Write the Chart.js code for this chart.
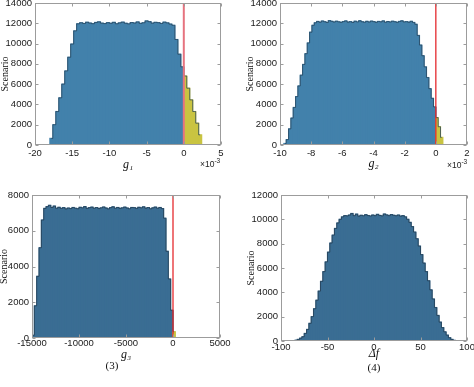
<!DOCTYPE html>
<html><head><meta charset="utf-8">
<script src="https://cdn.jsdelivr.net/npm/chart.js@4.4.0/dist/chart.umd.min.js"></script>
<style>
html,body{margin:0;padding:0;background:#fff;}
body{width:474px;height:387px;overflow:hidden;position:relative;}
canvas{position:absolute;}
.cap{position:absolute;width:40px;text-align:center;font-family:'Liberation Serif',serif;font-size:11px;line-height:12px;color:#111;}
.exp{position:absolute;font-family:'Liberation Sans',sans-serif;font-size:8.5px;line-height:9px;color:#222;white-space:nowrap;}
.exp span{font-size:6.5px;position:relative;top:-4px;}
</style></head><body>
<canvas id="c1"></canvas><canvas id="c2"></canvas><canvas id="c3"></canvas><canvas id="c4"></canvas>
<div class="exp" style="left:200px;top:160px">×10<span>-3</span></div>
<div class="exp" style="left:447px;top:161px">×10<span>-3</span></div>
<div class="cap" style="left:92px;top:359px">(3)</div>
<div class="cap" style="left:354px;top:361px">(4)</div>
<script>
// ---- data (bin start, bin width, counts) ----
const g1Start = -18, g1Width = 0.4;
const g1Counts = [650,2000,3300,4650,6000,7300,8650,9950,11250,11950,
 12050,11980,12100,12020,11960,12080,12140,12010,11970,12060,
 12000,12090,11950,12040,12110,12000,11940,12070,12020,12130,
 11990,12050,12230,12160,12010,12090,12060,11980,12110,12040,11920,
 11800,10400,8950,7700,6800,5600,4450,3300,2150,1000];
const g1XTicks = [-20,5,5], g1YTicks = [0,14000,2000];

const g2Start = -9.75, g2Width = 0.15;
const g2Counts = [150,530,1590,2650,3700,4770,5820,6880,7940,9000,10060,11120,11800,12050,
 12180,12100,12220,12150,12080,12260,12190,12120,12200,12140,
 12090,12170,12230,12110,12160,12080,12200,12130,12250,12150,
 12100,12190,12120,12210,12160,12090,12180,12140,12230,12100,
 12170,12120,12200,12150,12090,12180,12240,12130,12160,12100,
 12190,12080,
 11900,10800,9850,8800,7700,6650,5550,4600,3750,
 2700,1800,750];
const g2XTicks = [-10,2,2], g2YTicks = [0,14000,2000];

const g3Start = -15000, g3Width = 250;
const g3Counts = [150,1800,3450,5050,6600,7250,
 7350,7420,7300,7380,7260,7310,7250,7290,7220,7270,
 7240,7300,7260,7230,7310,7280,7350,7250,7290,7320,
 7260,7300,7240,7280,7330,7270,7220,7290,7340,7260,
 7300,7250,7280,7320,7270,7230,7300,7290,7250,7310,
 7280,7340,7260,7300,7230,7280,7320,7260,7300,7240,
 6700,4850,3300,1550,350];
const g3XTicks = [-15000,5000,5000], g3YTicks = [0,8000,2000];

const dfStart = -90, dfWidth = 2.5;
const dfCounts = [0,20,60,130,230,350,620,950,1450,2000,2650,3350,4100,4900,5700,6500,7300,8050,8700,9250,9700,10000,10200,10300,
 10280,10350,10480,10300,10420,10260,10330,10290,10380,10310,
 10270,10350,10300,10400,10320,10280,10440,10360,10300,10390,
 10330,10290,10350,10260,10300,
 10200,10000,9750,9400,8950,8400,7800,7100,6400,5700,4950,4200,3450,2750,2100,1550,1100,750,480,270,130,50,10];
const dfXTicks = [-100,100,50], dfYTicks = [0,12000,2000];

const xTitles = ['g\u2081','g\u2082','g\u2083','\u0394f'];
const yTitle = 'Scenario';
const thresholdX = 0;

// ---- styling / layout ----
const L = 36, T = 10, R = 14, B = 40;
const YELLOW = '#c9c441';
const frameColor = '#9c9c9c';

const framePlugin = {
  id: 'frame',
  afterDraw(chart) {
    const {ctx, chartArea: a, scales: {x, y}} = chart;
    ctx.save();
    ctx.strokeStyle = frameColor; ctx.lineWidth = 1;
    const l = Math.round(a.left) + 0.5, r = Math.round(a.right) - 0.5,
          t = Math.round(a.top) + 0.5, b = Math.round(a.bottom) - 0.5;
    ctx.strokeRect(l, t, r - l, b - t);
    ctx.beginPath();
    x.ticks.forEach(tk => {
      const p = Math.round(x.getPixelForValue(tk.value)) + 0.5;
      ctx.moveTo(p, b); ctx.lineTo(p, b - 3);
      ctx.moveTo(p, t); ctx.lineTo(p, t + 3);
    });
    y.ticks.forEach(tk => {
      const p = Math.round(y.getPixelForValue(tk.value)) + 0.5;
      ctx.moveTo(l, p); ctx.lineTo(l + 3, p);
      ctx.moveTo(r, p); ctx.lineTo(r - 3, p);
    });
    ctx.stroke();
    ctx.restore();
  }
};

function makeChart(id, d) {
  const c = document.getElementById(id);
  const p = d.plot;
  c.width = (p.r - p.l) + L + R;
  c.height = (p.b - p.t) + T + B;
  c.style.width = c.width + 'px'; c.style.height = c.height + 'px';
  c.style.left = (p.l - L) + 'px'; c.style.top = (p.t - T) + 'px';
  const pts = d.counts.map((v, i) => ({x: d.start + d.width * (i + 0.5), y: v}));
  const pos = ctx => d.hl && ctx.raw && ctx.raw.x > thresholdX;
  const tickFont = {family: "'Liberation Sans', Arial, sans-serif", size: 9.5};
  const datasets = [];
  if (d.hl) datasets.push({type: 'line', data: [{x: thresholdX, y: d.yt[0]}, {x: thresholdX, y: d.yt[1]}],
       borderColor: d.lineColor, borderWidth: d.lineWidth, pointRadius: 0, order: 0, clip: 0});
  // histogram outline along bin tops
  datasets.push({type: 'line', data: pts, stepped: 'middle', borderColor: d.edge, borderWidth: 1,
       pointRadius: 0, order: 1});
  datasets.push({type: 'bar', data: pts, order: 2,
       backgroundColor: ctx => pos(ctx) ? YELLOW : d.blue,
       borderWidth: 0, inflateAmount: 0.6,
       barPercentage: 1, categoryPercentage: 1});
  new Chart(c, {
    type: 'bar',
    data: {datasets},
    options: {
      responsive: false, animation: false, events: [],
      layout: {padding: {left: 0, top: T, right: R, bottom: 0}},
      plugins: {legend: {display: false}, tooltip: {enabled: false}},
      scales: {
        x: {type: 'linear', min: d.xt[0], max: d.xt[1], offset: false,
            grid: {display: false, drawTicks: false, offset: false}, border: {display: false},
            ticks: {stepSize: d.xt[2], padding: d.xpad, font: tickFont, color: '#1a1a1a',
                    maxRotation: 0, autoSkip: false, callback: v => String(v)},
            title: {display: true, text: d.xTitle, color: '#111',
                    font: {family: "'Liberation Serif', 'DejaVu Serif', serif", size: 12, style: 'italic'},
                    padding: {top: 0, bottom: d.tpb}},
            afterFit: s => { s.height = B; s.paddingLeft = 0; s.paddingRight = 0; }},
        y: {type: 'linear', min: d.yt[0], max: d.yt[1],
            grid: {display: false, drawTicks: false}, border: {display: false},
            ticks: {stepSize: d.yt[2], padding: 3, font: tickFont, color: '#1a1a1a', callback: v => String(v)},
            title: {display: true, text: yTitle, color: '#111',
                    font: {family: "'Liberation Serif', serif", size: 10},
                    padding: {top: d.ytp, bottom: 0}},
            afterFit: s => { s.width = L; s.paddingTop = 0; s.paddingBottom = 0; }}
      }
    },
    plugins: [framePlugin]
  });
}

makeChart('c1', {plot: {l: 35, t: 3, r: 221, b: 145}, start: g1Start, width: g1Width, counts: g1Counts,
  xt: g1XTicks, yt: g1YTicks, xTitle: xTitles[0], blue: '#4281ab', edge: 'rgba(40,70,92,0.75)', hl: true,
  lineColor: '#e6737f', lineWidth: 2, xpad: 3, tpb: 12.8, ytp: 0});
makeChart('c2', {plot: {l: 280, t: 3, r: 467, b: 145}, start: g2Start, width: g2Width, counts: g2Counts,
  xt: g2XTicks, yt: g2YTicks, xTitle: xTitles[1], blue: '#4281ab', edge: 'rgba(40,70,92,0.75)', hl: true,
  lineColor: '#e52a2e', lineWidth: 1.3, xpad: 3, tpb: 13.8, ytp: 0});
makeChart('c3', {plot: {l: 32, t: 195, r: 220, b: 338}, start: g3Start, width: g3Width, counts: g3Counts,
  xt: g3XTicks, yt: g3YTicks, xTitle: xTitles[2], blue: '#3a6d93', edge: 'rgba(36,60,80,0.75)', hl: true,
  lineColor: '#e52a2e', lineWidth: 1.3, xpad: 0, tpb: 15.8, ytp: 2});
makeChart('c4', {plot: {l: 281, t: 195, r: 467, b: 341}, start: dfStart, width: dfWidth, counts: dfCounts,
  xt: dfXTicks, yt: dfYTicks, xTitle: xTitles[3], blue: '#3a6d93', edge: 'rgba(36,60,80,0.75)', hl: false,
  lineColor: '#e52a2e', lineWidth: 0, xpad: 1, tpb: 19.8, ytp: 0});
</script>
</body></html>
